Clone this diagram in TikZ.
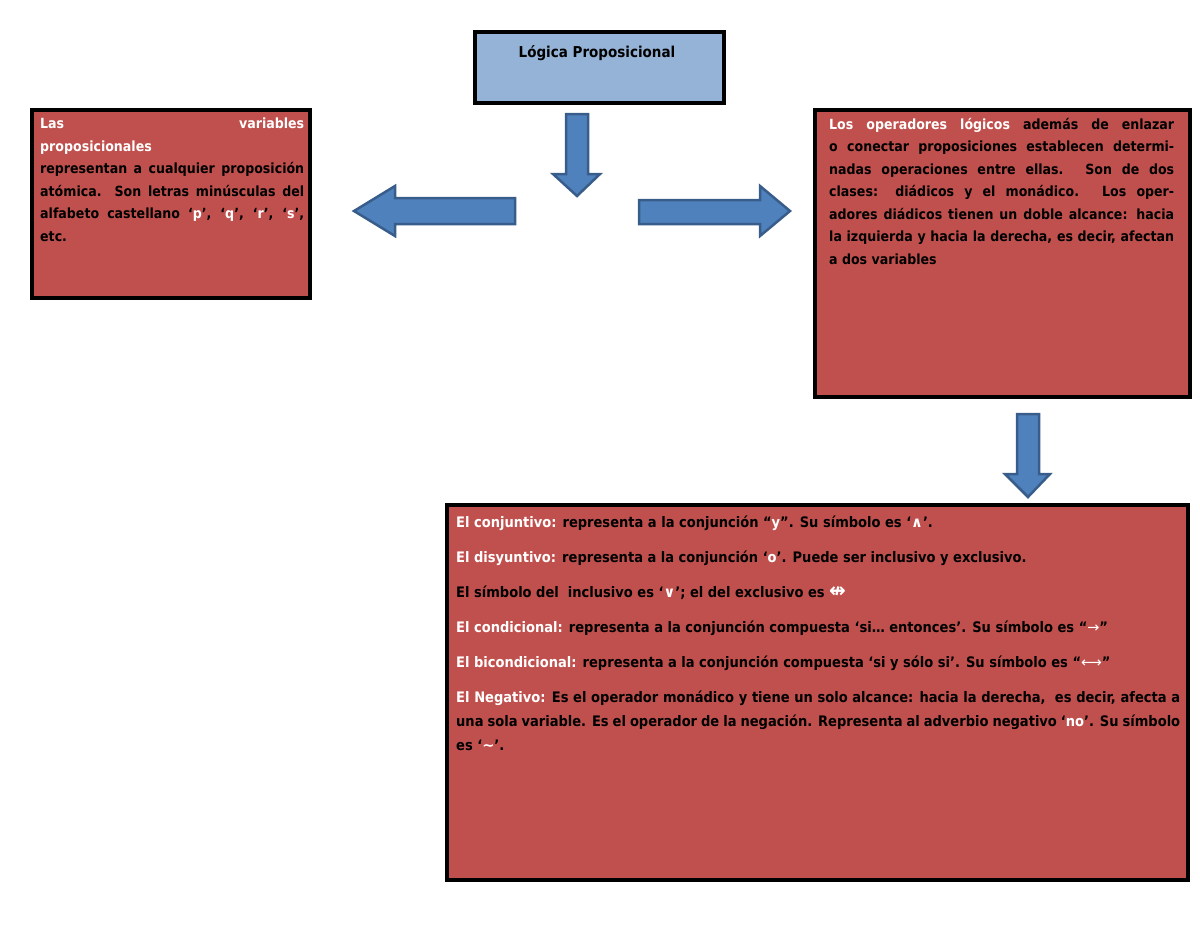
\documentclass[tikz,border=0pt]{standalone}
\usepackage{fontspec}
\setmainfont{DejaVu Sans Condensed}
\newfontfamily\symf{DejaVu Sans}
\definecolor{boxred}{HTML}{C0504D}
\definecolor{topblue}{HTML}{95B3D7}
\definecolor{arrfill}{HTML}{4F81BD}
\definecolor{arrline}{HTML}{385D8A}
\newcommand{\W}[1]{\textcolor{white}{#1}}
\tikzset{
 redbox/.style={draw=black,line width=3.5pt,fill=boxred,anchor=north west,inner sep=0pt},
 bigarrow/.style={draw=arrline,line width=2.5pt,fill=arrfill,line join=miter},
 txt/.style={anchor=north west,inner sep=0pt,align=justify,font=\bfseries\fontsize{14}{22.5}\selectfont}
}
\begin{document}
\begin{tikzpicture}[x=1pt,y=-1pt]
\useasboundingbox (0,0) rectangle (1200,927);
% top box
\node[draw=black,line width=3.5pt,fill=topblue,minimum width=249pt,minimum height=71pt,anchor=north west] (top) at (473,30) {};
\node[font=\bfseries\fontsize{15}{18}\selectfont,anchor=north] (toptxt) at (597,42) {Lógica Proposicional};
% left box
\draw[line width=3.5pt,fill=boxred] (32,110) rectangle (310,298);
\node[txt,text width=264pt] (left) at (40,118) {\W{Las} \hfill \W{variables}\newline \W{proposicionales}\newline representan a cualquier proposición atómica. Son letras minúsculas del alfabeto castellano `\W{p}', `\W{q}', `\W{r}', `\W{s}', etc.\par};
% right box
\draw[line width=3.5pt,fill=boxred] (815,110) rectangle (1190,397);
\node[txt,text width=345pt] (right) at (829,118) {\W{Los operadores lógicos} además de enlazar o conectar proposiciones establecen determinadas operaciones entre ellas. Son de dos clases: diádicos y el monádico. Los operadores diádicos tienen un doble alcance: hacia la izquierda y hacia la derecha, es decir, afectan a dos variables\par};
% bottom box
\draw[line width=3.5pt,fill=boxred] (447,505) rectangle (1188,880);
\node[txt,text width=724pt,font=\bfseries\fontsize{14.5}{24}\selectfont] (bottom) at (456,516) {%
\W{El conjuntivo:} representa a la conjunción “\W{y}”. Su símbolo es `\W{\symf ∧}'.\par\vspace{11pt}
\W{El disyuntivo:} representa a la conjunción `\W{o}'. Puede ser inclusivo y exclusivo.\par\vspace{11pt}
El símbolo del \ inclusivo es `\W{\symf ∨}'; el del exclusivo es \W{\symf\fontsize{20}{20}\selectfont ↮}\par\vspace{11pt}
\W{El condicional:} representa a la conjunción compuesta `si… entonces'. Su símbolo es “\W{\symf\mdseries →}”\par\vspace{11pt}
\W{El bicondicional:} representa a la conjunción compuesta `si y sólo si'. Su símbolo es “\W{\symf\mdseries ⟷}”\par\vspace{11pt}
\W{El Negativo:} Es el operador monádico y tiene un solo alcance: hacia la derecha, \ es decir, afecta a una sola variable. Es el operador de la negación. Representa al adverbio negativo `\W{no}'. Su símbolo es `\W{\symf ∼}'.\par};
% arrows
\draw[bigarrow] (566,114) -- (588,114) -- (588,174) -- (600,174) -- (577,196) -- (553,174) -- (566,174) -- cycle;
\draw[bigarrow] (515,198) -- (395,198) -- (395,186) -- (354,211) -- (395,236) -- (395,224) -- (515,224) -- cycle;
\draw[bigarrow] (639,200) -- (760,200) -- (760,186) -- (790,211) -- (760,236) -- (760,224) -- (639,224) -- cycle;
\draw[bigarrow] (1017,414) -- (1039,414) -- (1039,474) -- (1050,474) -- (1028,497) -- (1005,474) -- (1017,474) -- cycle;
\end{tikzpicture}
\end{document}
